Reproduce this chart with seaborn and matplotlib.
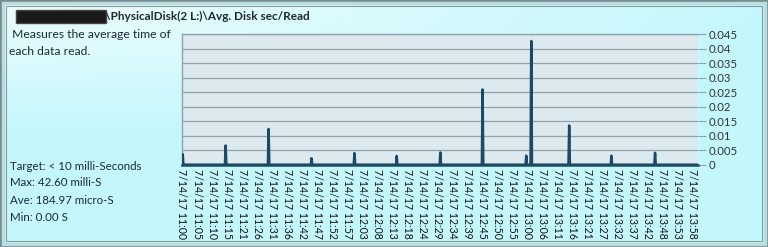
import numpy as np
import pandas as pd
import matplotlib
matplotlib.use("Agg")
import matplotlib.pyplot as plt
from matplotlib.patches import Rectangle, FancyBboxPatch
import seaborn as sns

# ---------------- data ----------------
n_samples = 722            # 15-second samples, 11:00 -> ~14:00
tick_step = 21             # one label every 21 samples (5.25 min)
tick_labels = ["7/14/17 11:00", "7/14/17 11:05", "7/14/17 11:10", "7/14/17 11:15",
               "7/14/17 11:21", "7/14/17 11:26", "7/14/17 11:31", "7/14/17 11:36",
               "7/14/17 11:42", "7/14/17 11:47", "7/14/17 11:52", "7/14/17 11:57",
               "7/14/17 12:03", "7/14/17 12:08", "7/14/17 12:13", "7/14/17 12:18",
               "7/14/17 12:24", "7/14/17 12:29", "7/14/17 12:34", "7/14/17 12:39",
               "7/14/17 12:45", "7/14/17 12:50", "7/14/17 12:55", "7/14/17 13:00",
               "7/14/17 13:06", "7/14/17 13:11", "7/14/17 13:16", "7/14/17 13:21",
               "7/14/17 13:27", "7/14/17 13:32", "7/14/17 13:37", "7/14/17 13:42",
               "7/14/17 13:48", "7/14/17 13:53", "7/14/17 13:58"]
spike_index = [1, 61, 121, 181, 241, 300, 361, 420, 481, 488, 541, 600, 661]
spike_value = [0.0036, 0.0066, 0.0123, 0.0022, 0.0040, 0.0030, 0.0042,
               0.0259, 0.0031, 0.0426, 0.0135, 0.0031, 0.0041]
y_ticks = [0, 0.005, 0.01, 0.015, 0.02, 0.025, 0.03, 0.035, 0.04, 0.045]
y_tick_labels = ["0", "0.005", "0.01", "0.015", "0.02", "0.025", "0.03",
                 "0.035", "0.04", "0.045"]
title_text = "\\PhysicalDisk(2 L:)\\Avg. Disk sec/Read"
desc_lines = [" Measures the average time of", "each data read."]
stat_lines = ["Target: < 10 milli-Seconds", "Max: 42.60 milli-S",
              "Ave: 184.97 micro-S", "Min: 0.00 S"]

values = np.zeros(n_samples)
values[spike_index] = spike_value
df = pd.DataFrame({"sample": np.arange(n_samples), "value": values})

# ---------------- style ----------------
sns.set_theme(style="white")
plt.rcParams["font.family"] = ["Lato", "DejaVu Sans"]

W, H = 768, 247
fig = plt.figure(figsize=(W / 100, H / 100), dpi=100)

# background gradient
bg = fig.add_axes([0, 0, 1, 1], zorder=-10)
gx = np.linspace(0, 1, 200)
gy = np.linspace(0, 1, 80)
GX, GY = np.meshgrid(gx, gy)
t = np.clip(np.sqrt((GX * 1.2) ** 2 + (GY * 2.2) ** 2) / 1.2, 0, 1)
c0 = np.array([0.93, 0.99, 0.99])
c1 = np.array([0.77, 0.97, 0.99])
img = c0[None, None, :] * (1 - t[..., None]) + c1[None, None, :] * t[..., None]
bg.imshow(img, extent=[0, 1, 0, 1], aspect="auto", origin="upper")
bg.set_xlim(0, 1)
bg.set_ylim(0, 1)
bg.axis("off")

# frame
fig.patches.append(Rectangle((0, 0), 1, 1, transform=fig.transFigure,
                             fill=False, edgecolor="#7a8a8c", linewidth=3, zorder=5))
fig.patches.append(Rectangle((3 / W, 3 / H), 1 - 6 / W, 1 - 6 / H,
                             transform=fig.transFigure, fill=False,
                             edgecolor="#b8dde0", linewidth=2.5, zorder=5))
fig.patches.append(Rectangle((6 / W, 6 / H), 1 - 12 / W, 1 - 12 / H,
                             transform=fig.transFigure, fill=False,
                             edgecolor="#8a9a9c", linewidth=0.8, zorder=5))

# main axes
ax = fig.add_axes([182 / W, 1 - 164.7 / H, (698 - 182) / W, (164.7 - 34) / H])
ax.set_facecolor("#dce9ef")
sns.lineplot(data=df, x="sample", y="value", ax=ax, color="#1c4a66",
             linewidth=1.8, zorder=3)
ax.set_xlim(0, n_samples - 1)
ax.set_ylim(0, 0.045)
ax.set_yticks(y_ticks)
ax.set_yticklabels(y_tick_labels)
ax.yaxis.tick_right()
ax.yaxis.set_label_position("right")
ax.grid(axis="y", color="#8fa3ad", linewidth=0.9)
ax.set_axisbelow(True)
ticks_pos = [i * tick_step for i in range(len(tick_labels))]
ax.set_xticks(ticks_pos)
ax.set_xticklabels(tick_labels, rotation=-90, fontsize=7.6, color="#111111",
                   ha="center", va="top")
ax.tick_params(axis="x", length=0, pad=3)
ax.tick_params(axis="y", length=6, width=0.8, color="#8fa3ad", pad=2,
               labelsize=8.2, labelcolor="#333333", direction="out")
ax.set_xlabel("")
ax.set_ylabel("")
for s in ["left", "top"]:
    ax.spines[s].set_color("#8fa3ad")
    ax.spines[s].set_linewidth(1)
ax.spines["right"].set_visible(False)
ax.spines["bottom"].set_color("#1c4a66")
ax.spines["bottom"].set_linewidth(1.8)

# redacted server name block
fig.patches.append(FancyBboxPatch((18 / W, 1 - 23 / H), 87 / W, 12 / H,
                                  boxstyle="round,pad=0.002",
                                  transform=fig.transFigure,
                                  facecolor="#1a1a1a", edgecolor="#444444",
                                  linewidth=1, zorder=6))
fig.text(105 / W, 1 - 16 / H, title_text, fontsize=8.5, fontweight="bold",
         color="#1a2a33", ha="left", va="center")

fig.text(9 / W, 1 - 34 / H, desc_lines[0], fontsize=8.7, color="#1a2a33",
         ha="left", va="center")
fig.text(9 / W, 1 - 51 / H, desc_lines[1], fontsize=8.7, color="#1a2a33",
         ha="left", va="center")
for i, line in enumerate(stat_lines):
    fig.text(10 / W, 1 - (166 + 17 * i) / H, line, fontsize=8.3,
             color="#1a2a33", ha="left", va="center")

fig.savefig("out.png", dpi=100)
